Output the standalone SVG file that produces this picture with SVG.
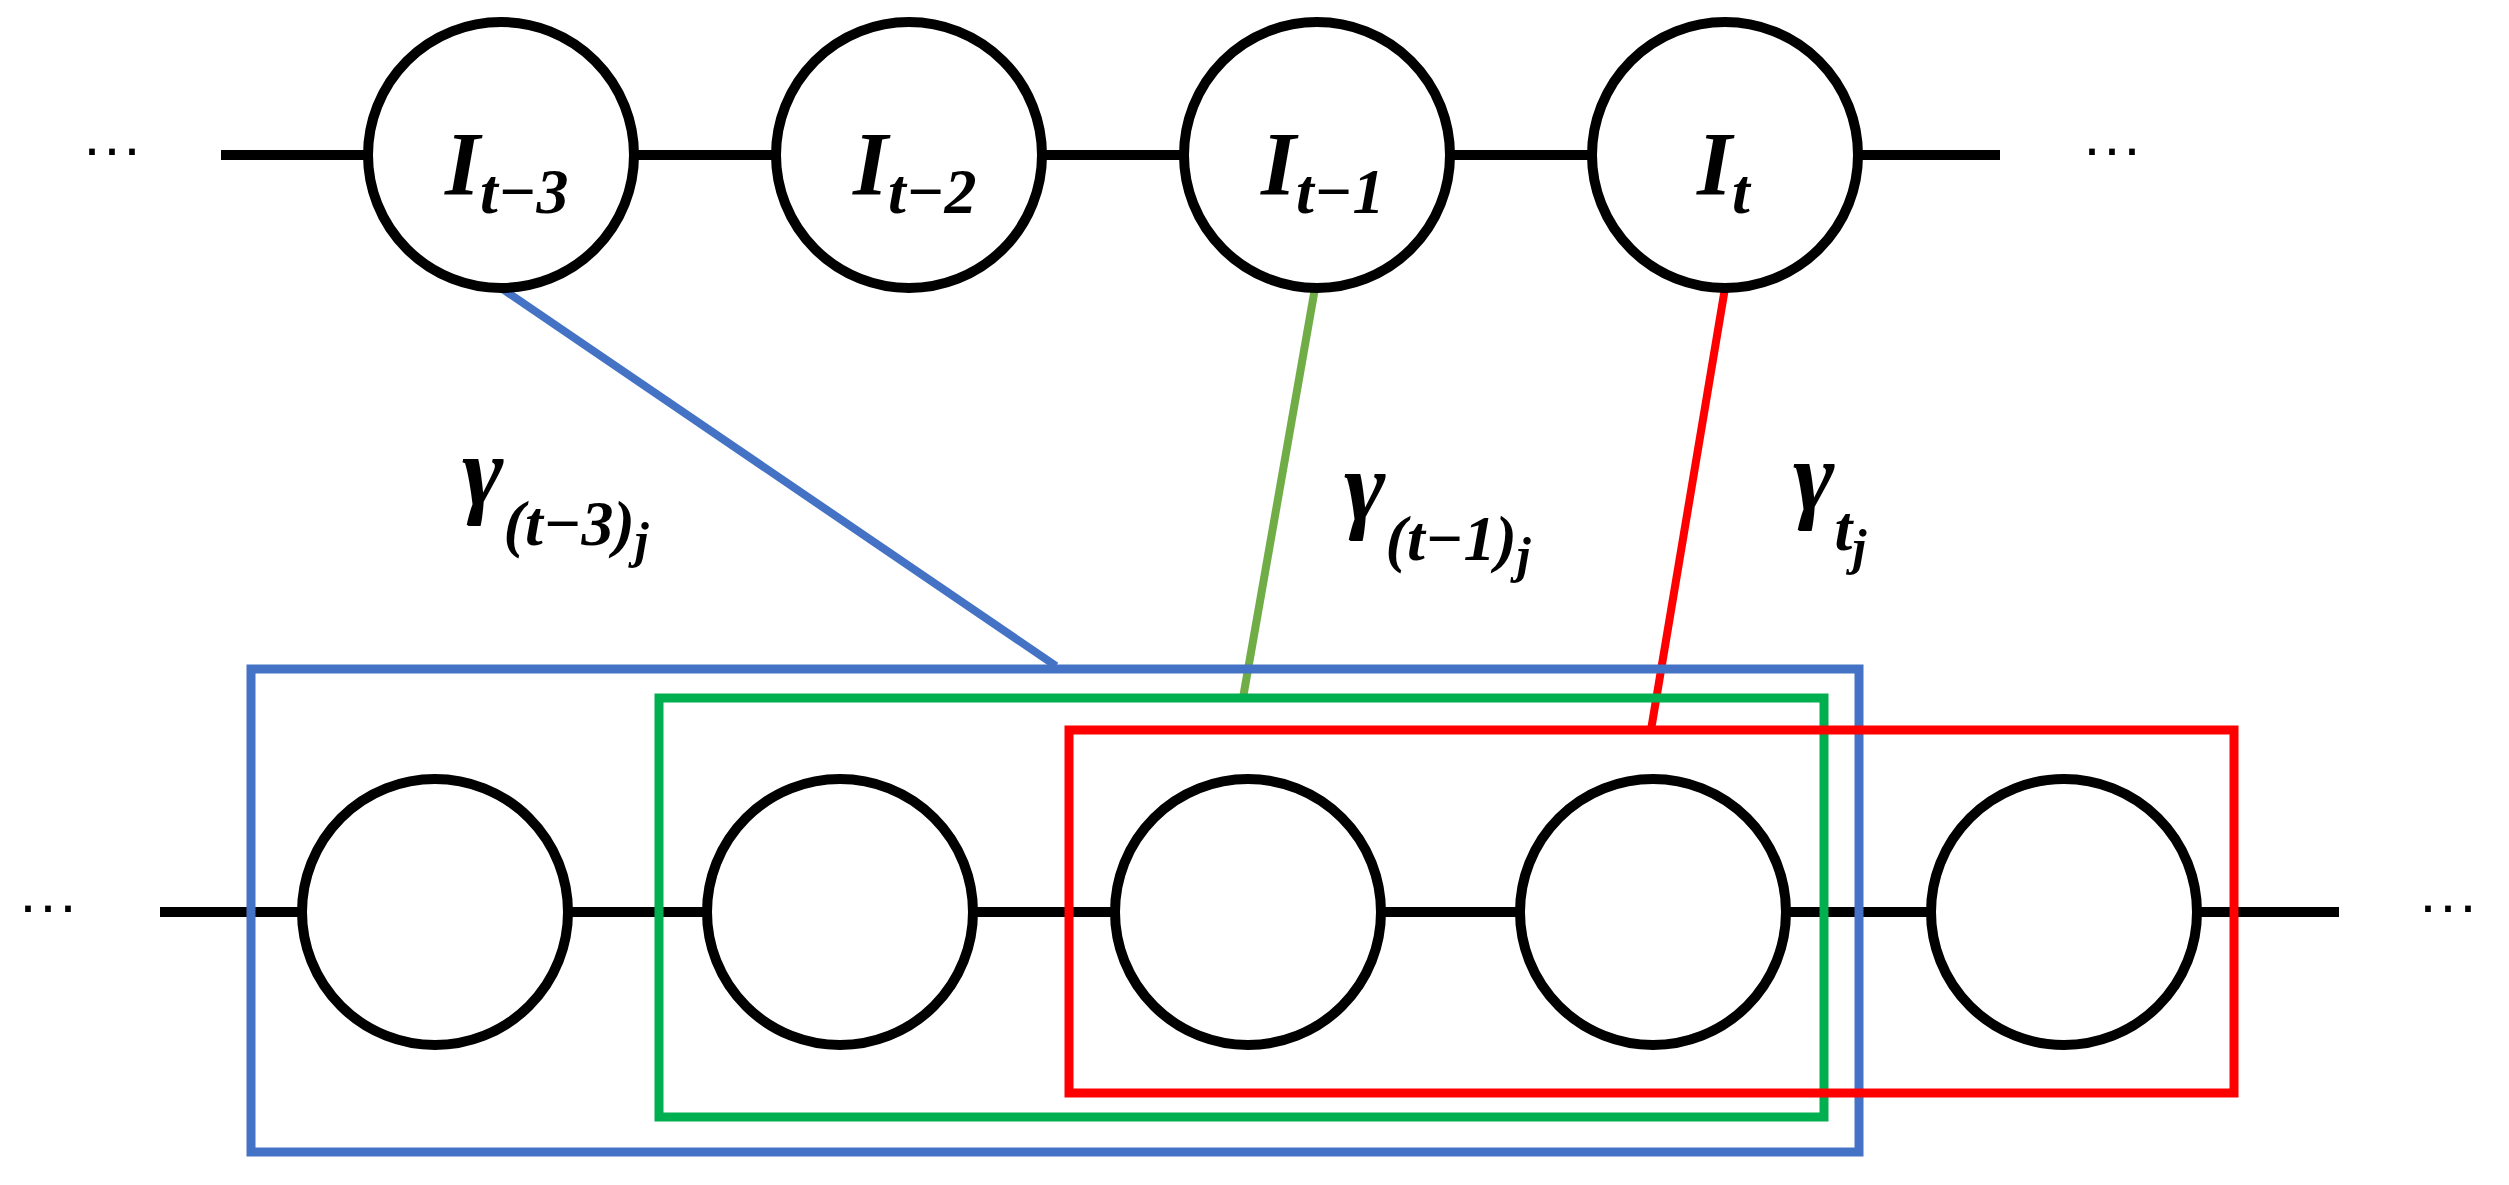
<svg xmlns="http://www.w3.org/2000/svg" width="2509" height="1185" viewBox="0 0 2509 1185">
<style>
.n{fill:#fff;stroke:#000;stroke-width:10}
.l{stroke:#000;stroke-width:10}
.t{font-family:"Liberation Serif",serif;font-style:italic;font-weight:bold;fill:#000}
.d{font-family:"Liberation Sans",sans-serif;font-size:60px;fill:#000}
.r{fill:none;stroke-width:9}
</style>
<rect width="2509" height="1185" fill="#fff"/>
<g id="connectors">
<line class="l" x1="221" y1="155" x2="2000" y2="155"/>
<line class="l" x1="160" y1="912" x2="2339" y2="912"/>
<line x1="501" y1="288" x2="1056" y2="666" stroke="#4472C4" stroke-width="8"/>
<line x1="1315" y1="288" x2="1243" y2="698" stroke="#70AD47" stroke-width="8"/>
<line x1="1725" y1="288" x2="1651" y2="730" stroke="#FF0000" stroke-width="8"/>
</g>
<g id="top-nodes">
<g id="I3"><circle class="n" cx="501" cy="155" r="133"/><text class="t" x="445" y="195" font-size="90">I<tspan font-size="64" dy="18">t−3</tspan></text></g>
<g id="I2"><circle class="n" cx="909" cy="155" r="133"/><text class="t" x="853" y="195" font-size="90">I<tspan font-size="64" dy="18">t−2</tspan></text></g>
<g id="I1"><circle class="n" cx="1317" cy="155" r="133"/><text class="t" x="1261" y="195" font-size="90">I<tspan font-size="64" dy="18">t−1</tspan></text></g>
<g id="I0"><circle class="n" cx="1725" cy="155" r="133"/><text class="t" x="1697" y="195" font-size="90">I<tspan font-size="64" dy="18">t</tspan></text></g>
</g>
<g id="bottom-nodes">
<circle class="n" cx="435" cy="912" r="133"/>
<circle class="n" cx="840" cy="912" r="133"/>
<circle class="n" cx="1248" cy="912" r="133"/>
<circle class="n" cx="1653" cy="912" r="133"/>
<circle class="n" cx="2064" cy="912" r="133"/>
</g>
<g id="windows">
<rect class="r" x="251" y="669" width="1608" height="483" stroke="#4472C4"/>
<rect class="r" x="659" y="698" width="1165" height="419" stroke="#00B050"/>
<rect class="r" x="1069" y="730" width="1165" height="363" stroke="#FF0000"/>
</g>
<g id="labels">
<text class="t" x="462" y="505" font-size="100">γ<tspan font-size="64" dy="40">(t−3)</tspan><tspan font-size="50" dy="12">j</tspan></text>
<text class="t" x="1344" y="520" font-size="100">γ<tspan font-size="64" dy="40">(t−1)</tspan><tspan font-size="50" dy="12">j</tspan></text>
<text class="t" x="1793" y="510" font-size="100">γ<tspan font-size="64" dy="40">t</tspan><tspan font-size="50" dy="14">j</tspan></text>
<text class="d" x="82" y="168">···</text>
<text class="d" x="2082" y="168">···</text>
<text class="d" x="18" y="925">···</text>
<text class="d" x="2418" y="925">···</text>
</g>
</svg>
